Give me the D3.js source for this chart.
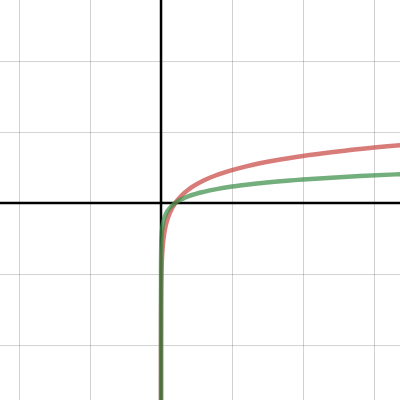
<!DOCTYPE html>
<html><head><meta charset="utf-8">
<script src="https://cdn.jsdelivr.net/npm/d3@7"></script>
<style>html,body{margin:0;padding:0;background:#fff;overflow:hidden}</style>
</head><body><svg id="c" width="400" height="400"></svg>
<script>
const xGridTicks = [-10, -5, 5, 10, 15];
const yGridTicks = [-10, -5, 5, 10];
const redX = [0.00005, 0.001, 0.005, 0.02, 0.05, 0.1, 0.2, 0.35, 0.5, 0.75, 1, 1.5, 2, 3, 4, 5, 6, 8, 10, 12, 14, 17];
const redY = [-14.29, -9.97, -7.64, -5.64, -4.32, -3.32, -2.32, -1.51, -1, -0.415, 0, 0.585, 1, 1.585, 2, 2.32, 2.585, 3, 3.32, 3.585, 3.81, 4.09];
const greenX = [0.0000000025, 0.00005, 0.001, 0.005, 0.02, 0.05, 0.1, 0.2, 0.35, 0.5, 0.75, 1, 1.5, 2, 3, 4, 5, 6, 8, 10, 12, 14, 17];
const greenY = [-14.3, -7.15, -4.98, -3.82, -2.82, -2.16, -1.66, -1.16, -0.76, -0.5, -0.21, 0, 0.29, 0.5, 0.79, 1, 1.16, 1.29, 1.5, 1.66, 1.79, 1.9, 2.04];

const W = 400, H = 400;
const x = d3.scaleLinear().domain([-11.34, 16.83]).range([0, W]);
const y = d3.scaleLinear().domain([-13.87, 14.3]).range([H, 0]);
const svg = d3.select('#c');
svg.append('rect').attr('width', W).attr('height', H).attr('fill', '#fff');

const gx = svg.append('g').attr('transform', `translate(0,${H})`)
  .call(d3.axisBottom(x).tickValues(xGridTicks).tickSize(H).tickFormat(''));
gx.select('.domain').remove();
gx.selectAll('line').attr('transform', `translate(0,${-H})`).attr('stroke', '#000').attr('stroke-opacity', 0.18).attr('stroke-width', 1);
const gy = svg.append('g')
  .call(d3.axisLeft(y).tickValues(yGridTicks).tickSize(-W).tickFormat(''));
gy.select('.domain').remove();
gy.selectAll('line').attr('stroke', '#000').attr('stroke-opacity', 0.18).attr('stroke-width', 1);

svg.append('line').attr('x1', 0).attr('x2', W).attr('y1', y(0)).attr('y2', y(0)).attr('stroke', '#000').attr('stroke-width', 2.5);
svg.append('line').attr('x1', x(0)).attr('x2', x(0)).attr('y1', 0).attr('y2', H).attr('stroke', '#000').attr('stroke-width', 2.5);

const line = d3.line().x(d => x(d[0])).y(d => y(d[1])).curve(d3.curveMonotoneX);
svg.append('path').datum(d3.zip(redX, redY)).attr('d', line)
  .attr('fill', 'none').attr('stroke', '#c74440').attr('stroke-opacity', 0.7).attr('stroke-width', 4.5).attr('stroke-linecap', 'round');
svg.append('path').datum(d3.zip(greenX, greenY)).attr('d', line)
  .attr('fill', 'none').attr('stroke', '#388c46').attr('stroke-opacity', 0.7).attr('stroke-width', 4.5).attr('stroke-linecap', 'round');
</script></body></html>
